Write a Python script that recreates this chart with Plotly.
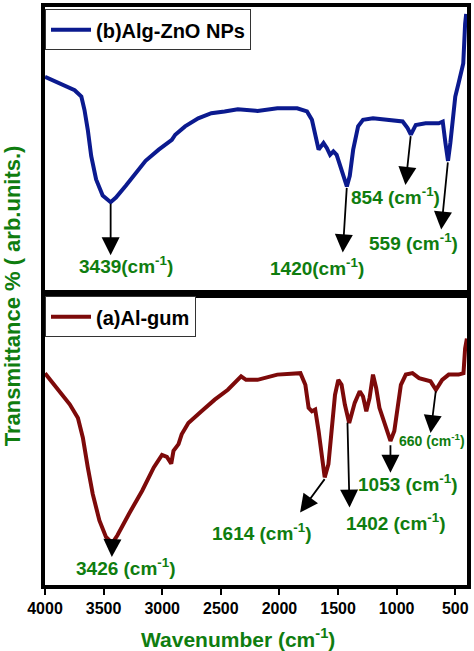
import plotly.graph_objects as go
from plotly.subplots import make_subplots

# (b) Alg-ZnO NPs  (top panel)
wn_b = [4000, 3873, 3747, 3690, 3663, 3635, 3606, 3564, 3508, 3440, 3395, 3311, 3227, 3142, 3030,
        2918, 2889, 2805, 2693, 2581, 2468, 2355, 2187, 2018, 1849, 1765, 1723, 1695, 1666, 1624,
        1596, 1568, 1540, 1512, 1484, 1425, 1400, 1371, 1329, 1287, 1202, 1062, 949, 907, 879,
        837, 753, 641, 607, 584, 562, 542, 514, 500, 472, 449, 432, 416, 407]
t_b = [75.7, 73.4, 71.0, 68.8, 64.1, 57.2, 48.1, 39.9, 34.3, 32.0, 33.6, 37.7, 42.2, 46.4, 50.3,
       53.7, 55.5, 58.4, 61.2, 63.0, 63.6, 64.4, 63.8, 64.7, 64.7, 63.6, 60.7, 56.1, 50.3, 52.6,
       50.9, 48.5, 49.7, 48.5, 44.6, 37.5, 41.2, 50.3, 58.4, 60.7, 61.2, 60.7, 60.1, 57.8, 55.5,
       58.9, 59.5, 59.5, 60.1, 52.6, 46.4, 52.6, 61.8, 68.8, 73.4, 77.5, 80.3, 94.1, 97.6]

# (a) Al-gum  (bottom panel)
wn_a = [4000, 3901, 3789, 3719, 3677, 3635, 3593, 3536, 3480, 3426, 3382, 3283, 3171, 3072, 3002,
        2960, 2923, 2904, 2861, 2834, 2777, 2665, 2552, 2440, 2327, 2285, 2187, 2018, 1821, 1779,
        1751, 1723, 1695, 1666, 1638, 1614, 1582, 1554, 1526, 1498, 1470, 1442, 1405, 1385, 1358,
        1315, 1287, 1259, 1231, 1202, 1175, 1147, 1118, 1076, 1053, 1020, 992, 964, 922, 865,
        809, 753, 711, 665, 612, 556, 472, 430, 416, 401]
t_a = [72.8, 67.7, 62.1, 57.4, 50.6, 40.4, 31.3, 22.2, 16.5, 14.4, 17.1, 24.5, 32.4, 40.4, 44.7,
       44.0, 41.7, 46.1, 48.4, 51.8, 55.7, 59.7, 63.7, 67.1, 71.7, 70.5, 70.5, 72.3, 72.8, 68.8,
       60.9, 59.7, 60.3, 52.9, 42.7, 37.0, 41.5, 52.9, 65.4, 70.5, 68.8, 62.0, 55.7, 58.6, 62.6,
       66.6, 64.8, 59.7, 64.3, 72.3, 67.7, 60.9, 57.4, 52.9, 49.5, 52.9, 60.9, 68.8, 72.3, 72.8,
       71.1, 70.5, 70.0, 67.1, 70.5, 72.3, 72.3, 72.8, 81.3, 84.7]

# peak labels: (text, text_x, text_y, tail_x, tail_y, head_x, head_y, font size)
peaks_b = [
    ("3439(cm<sup>-1</sup>)", 3308, 10.0, 3440, 32.0, 3440, 13.5, 19),
    ("1420(cm<sup>-1</sup>)", 1681, 9.3, 1425, 37.5, 1460, 14.5, 19),
    ("854 (cm<sup>-1</sup>)", 1006, 34.3, 879, 55.5, 925, 38.0, 19),
    ("559 (cm<sup>-1</sup>)", 854, 18.0, 562, 46.4, 620, 22.5, 19),
]
peaks_a = [
    ("3426 (cm<sup>-1</sup>)", 3308, 6.1, 3426, 14.4, 3430, 9.6, 19),
    ("1614 (cm<sup>-1</sup>)", 2153, 18.1, 1605, 36.9, 1824, 24.9, 19),
    ("1402 (cm<sup>-1</sup>)", 1006, 21.5, 1420, 56.3, 1402, 26.6, 19),
    ("1053 (cm<sup>-1</sup>)", 905, 35.2, 1053, 48.5, 1053, 38.6, 19),
    ("660 (cm<sup>-1</sup>)", 702, 49.8, 665, 67.1, 711, 52.2, 14),
]

GREEN = "#0f7d0f"
FONT = "Liberation Sans, Arial, sans-serif"

fig = make_subplots(rows=2, cols=1, shared_xaxes=True, vertical_spacing=0)

fig.add_trace(go.Scatter(x=wn_b, y=t_b, mode="lines", name="(b)Alg-ZnO NPs", showlegend=True,
                         line=dict(color="#0b1a8f", width=4), legend="legend"), row=1, col=1)
fig.add_trace(go.Scatter(x=wn_a, y=t_a, mode="lines", name="(a)Al-gum", showlegend=True,
                         line=dict(color="#7d0a0a", width=4), legend="legend2"), row=2, col=1)

split = (585 - 292) / 582.0

annots = []
for peaks, xr, yr in ((peaks_b, "x", "y"), (peaks_a, "x2", "y2")):
    for txt, tx, ty, ax, ay, hx, hy, fs in peaks:
        annots.append(dict(x=hx, y=hy, ax=ax, ay=ay, xref=xr, yref=yr, axref=xr, ayref=yr,
                           text="", showarrow=True, arrowhead=2, arrowsize=2.0,
                           arrowwidth=1.8, arrowcolor="black"))
        annots.append(dict(x=tx, y=ty, xref=xr, yref=yr, text=txt, showarrow=False,
                           font=dict(family=FONT, size=fs, color=GREEN, weight="bold")))

annots.append(dict(x=-0.0775, y=0.5, xref="paper", yref="paper", xanchor="center", yanchor="middle",
                   text="Transmittance % ( arb.units.)", textangle=-90, showarrow=False,
                   font=dict(family=FONT, size=22, color=GREEN, weight="bold")))
annots.append(dict(x=0.458, y=-0.091, xref="paper", yref="paper", xanchor="center", yanchor="middle",
                   text="Wavenumber (cm<sup>-1</sup>)", showarrow=False,
                   font=dict(family=FONT, size=21, color=GREEN, weight="bold")))

axis_common = dict(showline=True, linewidth=3.5, linecolor="black", mirror=True,
                   showgrid=False, zeroline=False)

legend_style = dict(x=0, xanchor="left", yanchor="top", bgcolor="white",
                    bordercolor="#333333", borderwidth=1,
                    font=dict(family=FONT, size=20, color="black", weight="bold"),
                    tracegroupgap=0, itemwidth=40, visible=True)

fig.update_layout(
    width=474, height=651,
    margin=dict(l=45, r=3, t=3, b=66),
    plot_bgcolor="white", paper_bgcolor="white",
    showlegend=True,
    annotations=annots,
    legend=dict(y=0.996, **legend_style),
    legend2=dict(y=split - 0.004, **legend_style),
    xaxis=dict(range=[4000, 400], showticklabels=False, ticks="", **axis_common),
    yaxis=dict(range=[0, 100], domain=[split, 1], showticklabels=False, ticks="", **axis_common),
    xaxis2=dict(range=[4000, 400], tickmode="linear", tick0=0, dtick=500,
                ticks="outside", ticklen=6, tickwidth=2, tickcolor="black",
                tickfont=dict(family=FONT, size=16, color="black", weight="bold"),
                **axis_common),
    yaxis2=dict(range=[0, 100], domain=[0, split], showticklabels=False, ticks="", **axis_common),
)

fig.write_html("out.html", config={"displayModeBar": False},
               post_script="document.body.style.margin='0';document.body.style.overflow='hidden';")
